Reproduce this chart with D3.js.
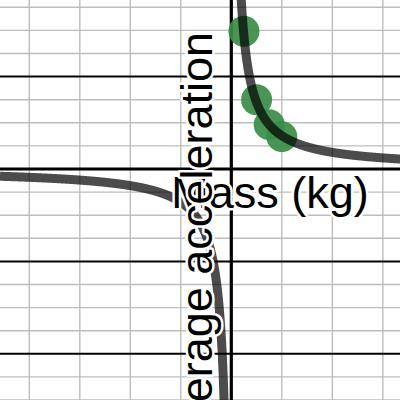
<!DOCTYPE html>
<html>
<head>
<meta charset="utf-8">
<script src="https://cdn.jsdelivr.net/npm/d3@7"></script>
<style>
  html, body { margin: 0; padding: 0; background: #fff; }
  svg { display: block; }
</style>
</head>
<body>
<div class="chart"></div>
<script>
// measured points (mass in kg, average acceleration)
const massKg = [0.05, 0.10, 0.15, 0.20]
const avgAccel = [1.49, 0.75, 0.48, 0.35]
// fitted model a = k / m
const fitK = 0.072
const xLabel = "Mass (kg)"
const yLabel = "Average acceleration"

const w = 400
const h = 400

const svg = d3.select(".chart").append("svg")
  .attr("width", w)
  .attr("height", h)

// Scales (origin sits right of centre, as in the graph)
const xScale = d3.scaleLinear().domain([-0.916, 0.668]).range([0, w])
const yScale = d3.scaleLinear().domain([1.829, -2.5]).range([0, h])

// minor grid
const xMinor = d3.range(-0.8, 0.7, 0.2).filter(v => Math.abs(v) > 1e-6)
const yMinor = d3.range(-2.5, 1.9, 0.25).filter(v => Math.abs(v - Math.round(v)) > 1e-6)
const yMajor = [-2, -1, 1]

const grid = svg.append("g").attr("class", "grid")
grid.selectAll(".vminor").data(xMinor).join("line")
  .attr("class", "vminor")
  .attr("x1", d => xScale(d)).attr("x2", d => xScale(d))
  .attr("y1", 0).attr("y2", h)
  .attr("stroke", "#bdbdbd").attr("stroke-width", 1.4)
grid.selectAll(".hminor").data(yMinor).join("line")
  .attr("class", "hminor")
  .attr("y1", d => yScale(d)).attr("y2", d => yScale(d))
  .attr("x1", 0).attr("x2", w)
  .attr("stroke", "#bdbdbd").attr("stroke-width", 1.4)
grid.selectAll(".hmajor").data(yMajor).join("line")
  .attr("class", "hmajor")
  .attr("y1", d => yScale(d)).attr("y2", d => yScale(d))
  .attr("x1", 0).attr("x2", w)
  .attr("stroke", "#000").attr("stroke-width", 2)

// axes
svg.append("line")
  .attr("x1", 0).attr("x2", w)
  .attr("y1", yScale(0)).attr("y2", yScale(0))
  .attr("stroke", "#000").attr("stroke-width", 3.2)
svg.append("line")
  .attr("x1", xScale(0)).attr("x2", xScale(0))
  .attr("y1", 0).attr("y2", h)
  .attr("stroke", "#000").attr("stroke-width", 3.2)

// data points
const points = massKg.map((m, i) => ({m: m, a: avgAccel[i]}))
svg.selectAll(".pt").data(points).join("circle")
  .attr("class", "pt")
  .attr("cx", d => xScale(d.m))
  .attr("cy", d => yScale(d.a))
  .attr("r", 15.5)
  .attr("fill", "#388c46")
  .attr("fill-opacity", 0.92)

// fitted curve, two branches
const [x0, x1] = xScale.domain()
const leftBranch = d3.range(x0, -0.0005, 0.0005).map(x => [x, fitK / x])
const rightBranch = d3.range(0.0005, x1 + 0.001, 0.0005).map(x => [x, fitK / x])
const lineGen = d3.line()
  .defined(d => d[1] > -4 && d[1] < 4)
  .x(d => xScale(d[0]))
  .y(d => yScale(d[1]))

svg.append("clipPath").attr("id", "clip")
  .append("rect").attr("width", w).attr("height", h)

svg.append("g").attr("clip-path", "url(#clip)")
  .selectAll(".branch").data([leftBranch, rightBranch]).join("path")
  .attr("class", "branch")
  .attr("d", d => lineGen(d))
  .attr("fill", "none")
  .attr("stroke", "#000")
  .attr("stroke-opacity", 0.7)
  .attr("stroke-width", 9)
  .attr("stroke-linejoin", "round")

// axis labels with white halo
const labelStyle = sel => sel
  .attr("font-family", "'Liberation Sans', Arial, sans-serif")
  .attr("font-size", 45)
  .attr("fill", "#000")
  .attr("stroke", "#fff")
  .attr("stroke-width", 5)
  .attr("stroke-linejoin", "round")
  .attr("paint-order", "stroke")
  .attr("text-anchor", "middle")

svg.append("text")
  .attr("x", 270)
  .attr("y", 208)
  .call(labelStyle)
  .text(xLabel)

svg.append("text")
  .attr("transform", "translate(212,243) rotate(-90)")
  .call(labelStyle)
  .text(yLabel)
</script>
</body>
</html>
